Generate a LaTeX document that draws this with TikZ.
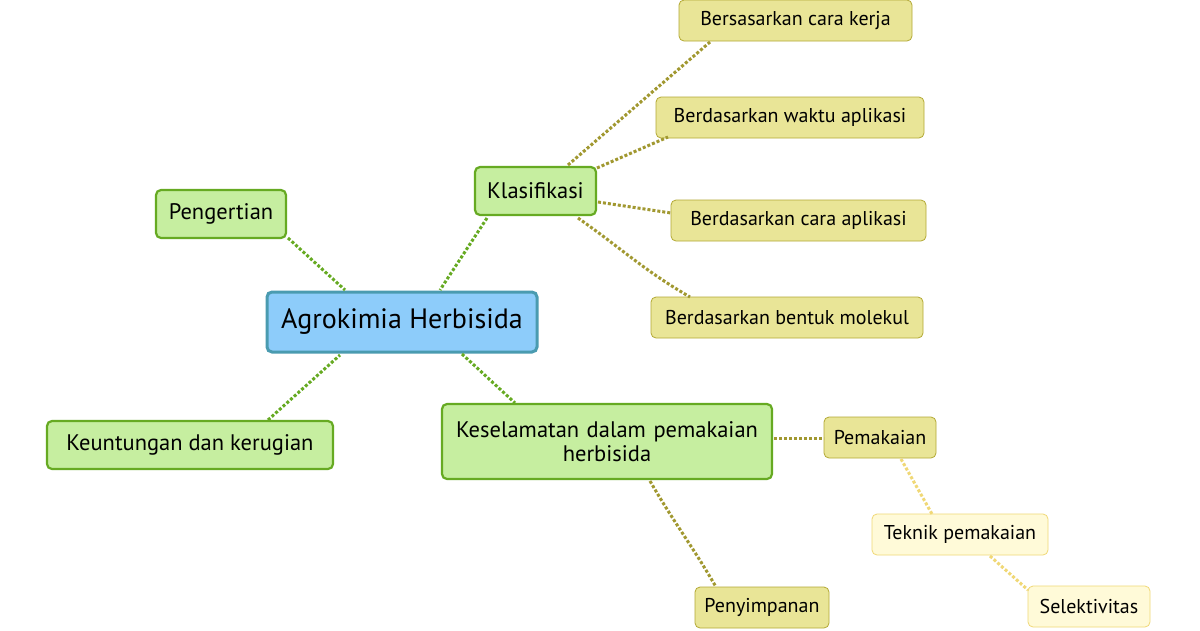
\documentclass[tikz,border=0pt]{standalone}
\usepackage{fontspec}
\setmainfont{PT Sans}
\begin{document}
\begin{tikzpicture}[x=1pt,y=-1pt,
 box/.style={draw,rounded corners=5pt,inner sep=0pt,align=center},
 root/.style={box,fill=rootfill,draw=rootline,line width=3pt,font=\fontsize{28}{30}\selectfont},
 main/.style={box,fill=mainfill,draw=mainline,line width=2.2pt,font=\fontsize{22.5}{24}\selectfont},
 sub/.style={box,fill=subfill,draw=subline,line width=0.8pt,font=\fontsize{20}{22}\selectfont},
 leaf/.style={box,fill=leaffill,draw=leafline,line width=0.8pt,font=\fontsize{20}{22}\selectfont},
 gl/.style={draw=mainline,line width=3pt,dotted},
 yl/.style={draw=subline!90!black,line width=3pt,dotted},
 ll/.style={draw=leafline,line width=3pt,dotted}]
\definecolor{rootfill}{HTML}{8DCCFA}\definecolor{rootline}{HTML}{4A9BB0}
\definecolor{mainfill}{HTML}{C6EEA0}\definecolor{mainline}{HTML}{66AA22}
\definecolor{subfill}{HTML}{E9E597}\definecolor{subline}{HTML}{B3A935}
\definecolor{leaffill}{HTML}{FFFAD8}\definecolor{leafline}{HTML}{F0D876}
\useasboundingbox (0,0) rectangle (1200,630);
\fill[white] (0,0) rectangle (1200,630);
\node[root,minimum width=270,minimum height=60] (c) at (402,322) {Agrokimia Herbisida};
\node[main,minimum width=130,minimum height=48] (p) at (221,214) {Pengertian};
\node[main,minimum width=121,minimum height=48] (k) at (535.5,191) {Klasifikasi};
\node[main,minimum width=286,minimum height=48] (u) at (190,445) {Keuntungan dan kerugian};
\node[main,minimum width=330,minimum height=75,text width=320] (s) at (607,441.5) {Keselamatan dalam pemakaian\\herbisida};
\node[sub,minimum width=233,minimum height=41] (a1) at (795.5,20.5) {Bersasarkan cara kerja};
\node[sub,minimum width=268,minimum height=41] (a2) at (790,117.5) {Berdasarkan waktu aplikasi};
\node[sub,minimum width=255,minimum height=41] (a3) at (798.5,220.5) {Berdasarkan cara aplikasi};
\node[sub,minimum width=272,minimum height=41] (a4) at (787,317.5) {Berdasarkan bentuk molekul};
\node[sub,minimum width=112,minimum height=41] (pm) at (880,437.5) {Pemakaian};
\node[sub,minimum width=134,minimum height=41] (py) at (762,607.5) {Penyimpanan};
\node[leaf,minimum width=176,minimum height=41] (t) at (960,534.5) {Teknik pemakaian};
\node[leaf,minimum width=122,minimum height=41] (sl) at (1089,606.5) {Selektivitas};
\path[gl] (288,238) -- (345,290);
\path[gl] (487,218) -- (440,290);
\path[gl] (268,420) -- (340,355);
\path[gl] (462,354) -- (515,403);
\path[yl] (568,165) -- (710,42);
\path[yl] (597,168) -- (668,137);
\path[yl] (598,202) -- (671,213);
\path[yl] (578,218) to[out=-35,in=150] (690,297);
\path[yl] (774,438) -- (824,438);
\path[yl] (650,481) to[out=-60,in=120] (716,587);
\path[ll] (901,459) -- (932,514);
\path[ll] (990,556) -- (1028,590);
\end{tikzpicture}
\end{document}
